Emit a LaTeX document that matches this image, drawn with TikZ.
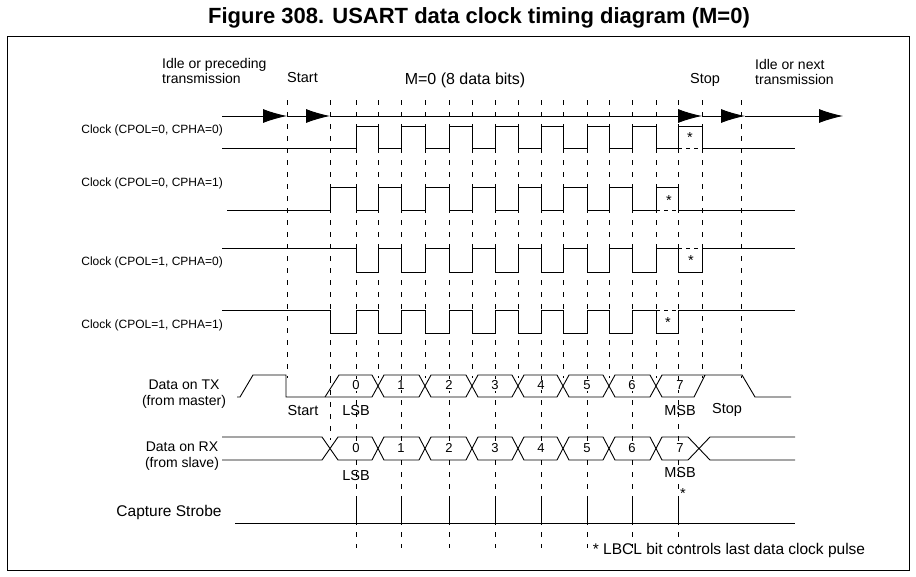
\documentclass[tikz,border=0pt]{standalone}
\usepackage{fontspec}
\setmainfont{Liberation Sans}
\usetikzlibrary{arrows.meta}
\begin{document}
\begin{tikzpicture}[x=1pt,y=-1pt,
  wave/.style={line width=0.9pt},
  guide/.style={dash pattern=on 5pt off 7pt,line width=0.8pt},
  lbl/.style={font=\fontsize{14.5}{15}\selectfont,inner sep=0pt},
  big/.style={-{Latex[length=24pt,width=14pt]},line width=0.9pt}]
\useasboundingbox (0,0) rectangle (916,576);
\node[font=\bfseries\fontsize{22}{24}\selectfont] (title) at (479,18) {Figure 308. USART data clock timing diagram (M=0)};
\draw[line width=0.8pt] (7,36) rectangle (909,570);
% guides
\foreach \x in {356,401,449,495,541,587,632,678} \draw[guide] (\x,100) -- (\x,548);
\foreach \x in {287,330,378,425,472,518,563,609,656,702,741} \draw[guide] (\x,100) -- (\x,378);
\draw[guide] (330,378) -- (330,440);
% top arrows
\coordinate (a0) at (222,116); \coordinate (a1) at (287,116); \coordinate (a2) at (330,116);
\coordinate (a3) at (702,116); \coordinate (a4) at (745,116); \coordinate (a5) at (843,116);
\draw[big] (a0)--(a1); \draw[big] (a1)--(a2); \draw[big] (a2)--(a3); \draw[big] (a3)--(a4); \draw[big] (a4)--(a5);
% texts top
\node[lbl,align=left,anchor=west,font=\fontsize{14}{13}\selectfont] (idle1) at (162,71) {Idle or preceding\\transmission};
\node[lbl,anchor=west] (start1) at (287,78) {Start};
\node[lbl,font=\fontsize{16}{17}\selectfont] (mbits) at (465,80) {M=0 (8 data bits)};
\node[lbl] (stop1) at (705,80) {Stop};
\node[lbl,align=left,anchor=west,font=\fontsize{14}{15}\selectfont] (idle2) at (755,72) {Idle or next\\transmission};
% clock labels
\node[lbl,anchor=east,font=\fontsize{12}{14}\selectfont] (c1) at (223,130) {Clock (CPOL=0, CPHA=0)};
\node[lbl,anchor=east,font=\fontsize{12}{14}\selectfont] (c2) at (223,183) {Clock (CPOL=0, CPHA=1)};
\node[lbl,anchor=east,font=\fontsize{12}{14}\selectfont] (c3) at (223,262) {Clock (CPOL=1, CPHA=0)};
\node[lbl,anchor=east,font=\fontsize{12}{14}\selectfont] (c4) at (223,325) {Clock (CPOL=1, CPHA=1)};
% clocks
\draw[wave] (222,148) \foreach \c/\b in {356/378,401/425,449/472,495/518,541/563,587/609,632/656,678/702} {-- (\c,148) -- (\c,126) -- (\b,126) -- (\b,148)} -- (795,148);
\draw[guide,dash pattern=on 4pt off 4pt] (678,148) -- (702,148);
\node[lbl] (s1) at (690,138) {*};
\draw[wave] (227,210) \foreach \s/\c in {330/356,378/401,425/449,472/495,518/541,563/587,609/632,656/678} {-- (\s,210) -- (\s,187) -- (\c,187) -- (\c,210)} -- (795,210);
\draw[guide,dash pattern=on 4pt off 4pt] (656,210) -- (678,210);
\node[lbl] (s2) at (669,201) {*};
\draw[wave] (222,248) \foreach \c/\b in {356/378,401/425,449/472,495/518,541/563,587/609,632/656,678/702} {-- (\c,248) -- (\c,272) -- (\b,272) -- (\b,248)} -- (795,248);
\draw[guide,dash pattern=on 4pt off 4pt] (678,248) -- (702,248);
\node[lbl] (s3) at (691,261) {*};
\draw[wave] (222,310) \foreach \s/\c in {330/356,378/401,425/449,472/495,518/541,563/587,609/632,656/678} {-- (\s,310) -- (\s,333) -- (\c,333) -- (\c,310)} -- (795,310);
\draw[guide,dash pattern=on 4pt off 4pt] (656,310) -- (678,310);
\node[lbl] (s4) at (668,323) {*};
% TX
\node[lbl,align=center,font=\fontsize{14}{16}\selectfont] (tx) at (184,394) {Data on TX\\(from master)};
\draw[wave] (237,397) -- (240,397) -- (253,375) -- (286,375) -- (286,397) -- (372,397);
\draw[wave] (325,397) -- (339,375) -- (372,375);
\foreach \b/\n in {378/425,425/472,472/518,518/563,563/609,609/656}
  \draw[wave] (\b-6,375) -- (\b+6,397) -- (\n-6,397) (\b-6,397) -- (\b+6,375) -- (\n-6,375);
\draw[wave] (650,375) -- (662,397) -- (694,397) -- (705,375) (650,397) -- (662,375) -- (742,375) -- (755,397) -- (791,397);
\foreach \x/\d in {356/0,401/1,449/2,495/3,541/4,587/5,632/6,680/7} \node[lbl,font=\fontsize{13}{14}\selectfont,fill=white,inner sep=1pt] (tx\d) at (\x,385) {\d};
\node[lbl] (txstart) at (303,411) {Start};
\node[lbl] (txlsb) at (356,411) {LSB};
\node[lbl] (txmsb) at (680,411) {MSB};
\node[lbl] (txstop) at (727,410) {Stop};
% RX
\node[lbl,align=center,font=\fontsize{14}{16}\selectfont] (rx) at (182,456) {Data on RX\\(from slave)};
\draw[wave] (222,437) -- (322,437) -- (338,460) -- (372,460) (222,460) -- (322,460) -- (338,437) -- (372,437);
\foreach \b/\n in {378/425,425/472,472/518,518/563,563/609,609/656,656/694}
  \draw[wave] (\b-6,437) -- (\b+6,460) -- (\n-6,460) (\b-6,460) -- (\b+6,437) -- (\n-6,437);
\draw[wave] (688,437) -- (710,460) -- (795,460) (688,460) -- (710,437) -- (795,437);
\foreach \x/\d in {356/0,401/1,449/2,495/3,541/4,587/5,632/6,680/7} \node[lbl,font=\fontsize{13}{14}\selectfont,fill=white,inner sep=1pt] (rx\d) at (\x,448) {\d};
\node[lbl] (rxlsb) at (356,476) {LSB};
\node[lbl] (rxmsb) at (680,473) {MSB};
\node[lbl] (rxs) at (683,494) {*};
% strobe
\node[lbl,font=\fontsize{15.5}{16}\selectfont] (cap) at (169,512) {Capture Strobe};
\draw[wave] (235,523) -- (795,523);
\foreach \x in {356,401,449,495,541,587,632,678} \draw[wave] (\x,500) -- (\x,523);
\node[lbl,font=\fontsize{15.5}{16}\selectfont] (note) at (729,550) {* LBCL bit controls last data clock pulse};
\end{tikzpicture}
\end{document}
